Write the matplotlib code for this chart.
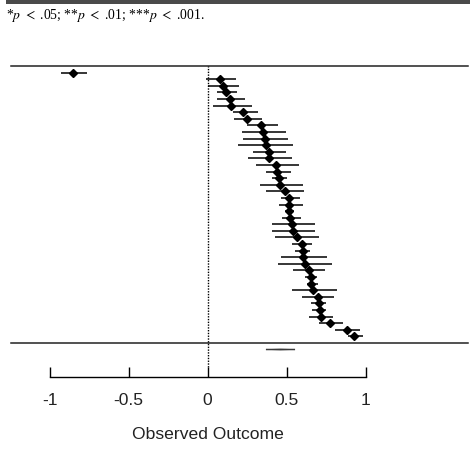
import numpy as np
import matplotlib.pyplot as plt
from matplotlib.patches import Rectangle

# observed outcomes, top row first, with 95% CI bounds
yi = [-0.851, 0.079, 0.100, 0.115, 0.142, 0.149, 0.227, 0.252, 0.337, 0.353,
      0.364, 0.370, 0.389, 0.389, 0.434, 0.442, 0.455, 0.462, 0.491, 0.518,
      0.518, 0.518, 0.522, 0.533, 0.539, 0.564, 0.596, 0.602, 0.606, 0.617,
      0.644, 0.653, 0.655, 0.670, 0.701, 0.708, 0.712, 0.716, 0.775, 0.881,
      0.929]
ci_lb = [-0.930, -0.011, 0.005, 0.058, 0.058, 0.033, 0.163, 0.170, 0.248, 0.216,
         0.223, 0.195, 0.290, 0.258, 0.305, 0.370, 0.406, 0.332, 0.370, 0.463,
         0.451, 0.490, 0.470, 0.406, 0.406, 0.427, 0.537, 0.554, 0.463, 0.448,
         0.543, 0.617, 0.628, 0.537, 0.600, 0.652, 0.660, 0.644, 0.708, 0.807,
         0.891]
ci_ub = [-0.760, 0.178, 0.200, 0.185, 0.237, 0.280, 0.318, 0.343, 0.448, 0.497,
         0.511, 0.543, 0.497, 0.533, 0.579, 0.527, 0.505, 0.606, 0.613, 0.585,
         0.606, 0.550, 0.590, 0.680, 0.680, 0.708, 0.659, 0.649, 0.754, 0.790,
         0.744, 0.691, 0.700, 0.818, 0.803, 0.750, 0.750, 0.796, 0.860, 0.965,
         0.982]
# pooled estimate
est, est_lb, est_ub = 0.462, 0.370, 0.554
ticks = [-1, -0.5, 0, 0.5, 1]
tick_labels = ['-1', '-0.5', '0', '0.5', '1']
note = '*$p$ $<$ .05; **$p$ $<$ .01; ***$p$ $<$ .001.'

plt.rcParams['mathtext.fontset'] = 'stix'

fig = plt.figure(figsize=(4.74, 4.51), dpi=100)
ax = fig.add_axes([0, 0, 1, 1])
ax.patch.set_alpha(0)

k = len(yi)
rows = np.arange(k, 0, -1)

ax.set_xlim(-1.3133, 1.6867)
ax.set_ylim(-16.4, 52.03)

# study rows
ax.hlines(rows, ci_lb, ci_ub, color='black', lw=1.1)
ax.plot(yi, rows, 'D', color='black', markersize=3.7)

# header / separator lines and reference line
ax.axhline(k + 1, xmin=11 / 474, xmax=468 / 474, color='#222222', lw=1.1)
ax.axhline(0, xmin=11 / 474, xmax=468 / 474, color='#222222', lw=1.1)
ax.vlines(0, -3.6, k + 1, color='black', lw=1.0, linestyles=(0, (1.0, 1.0)))

# summary polygon (very flat diamond)
ax.fill([est_lb, est, est_ub, est], [-1, -0.95, -1, -1.05],
        facecolor='#3a3a3a', edgecolor='#3a3a3a', lw=0.9)

for s in ['left', 'top', 'right']:
    ax.spines[s].set_visible(False)
ax.spines['bottom'].set_position(('data', -5.13))
ax.spines['bottom'].set_bounds(-1, 1)
ax.spines['bottom'].set_linewidth(1.0)
ax.set_yticks([])
ax.set_xticks(ticks)
ax.set_xticklabels(tick_labels)
ax.tick_params(axis='x', direction='in', length=7.2, width=1.0, pad=12,
               labelsize=12.6, labelcolor='#222222')
for lab in ax.get_xticklabels():
    lab.set_family(['Liberation Sans', 'DejaVu Sans'])
ax.set_xlabel('Observed Outcome', fontsize=12.6,
              family=['Liberation Sans', 'DejaVu Sans'], color='#222222')
ax.xaxis.set_label_coords(207.5 / 474, 1 - 427 / 451)

# top bar and footnote
fig.patches.append(Rectangle((6 / 474, 1 - 3.5 / 451), 464 / 474, 3.5 / 451,
                             transform=fig.transFigure, color='#4a4a4a', lw=0))
fig.text(6 / 474, 1 - 18.5 / 451, note, fontsize=9.8, ha='left', va='baseline',
         family=['Liberation Serif', 'DejaVu Serif'])

fig.savefig('out.png', dpi=100)
